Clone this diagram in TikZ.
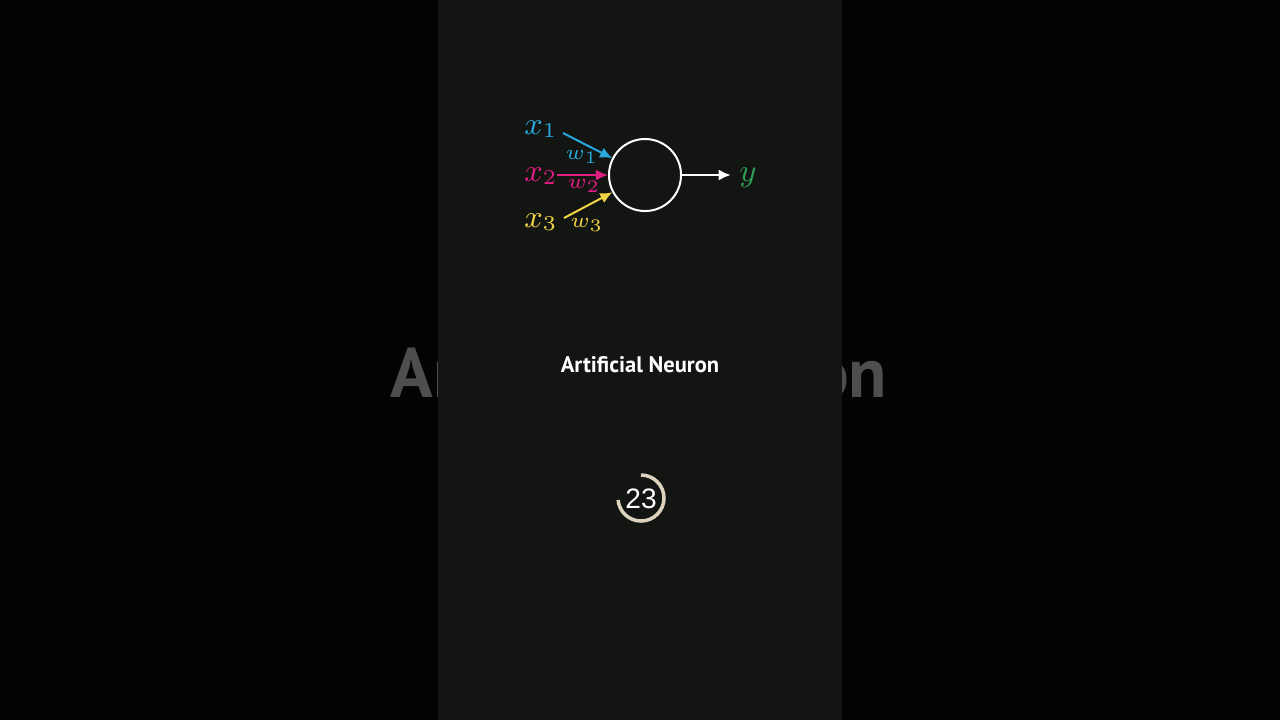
\documentclass[tikz,border=0pt]{standalone}
\usepackage{amsmath, amssymb}
\usepackage{fontspec}
\setmainfont{PT Sans}
\newfontfamily\countfont{Liberation Sans}
\usetikzlibrary{arrows.meta}

\definecolor{outside}{HTML}{030303}
\definecolor{panel}{HTML}{131513}
\definecolor{ghost}{HTML}{4E4E4E}
\definecolor{inblue}{HTML}{2AA8DE}
\definecolor{inpink}{HTML}{E11E82}
\definecolor{inyellow}{HTML}{F2D545}
\definecolor{outgreen}{HTML}{2E9E55}
\definecolor{ring}{HTML}{DDD2BE}

\tikzset{
  wire/.style={line width=0.02cm, -{Latex[length=0.12cm, width=0.11cm]}},
  varlabel/.style={inner sep=0pt, font=\fontsize{8.6}{9}\selectfont},
  wlabel/.style={inner sep=0pt, font=\fontsize{6.2}{7}\selectfont},
  ghosttext/.style={anchor=base, text=ghost, font=\fontsize{20}{21}\bfseries}
}

\begin{document}
\begin{tikzpicture}[x=0.01cm, y=-0.01cm]
  \tikzstyle{every node}+=[inner sep=0pt]
  % frame and panel
  \fill [outside] (0,0) rectangle (1280,720);
  \node (ghostleft) [ghosttext, anchor=base west] at (390,397) {Ar};
  \node (ghostright) [ghosttext, anchor=base east] at (888,397) {on};
  \fill [panel] (438,0) rectangle (842,720);
  \useasboundingbox (0,0) rectangle (1280,720);
  % neuron
  \node (neuron) [circle, draw=white, line width=0.02cm, minimum size=0.72cm] at (645,175) {};
  \node (x1) [varlabel, text=inblue] at (541,129) {$x_1$};
  \node (x2) [varlabel, text=inpink] at (541,176) {$x_2$};
  \node (x3) [varlabel, text=inyellow] at (541,222) {$x_3$};
  \node (y) [varlabel, text=outgreen] at (748,178) {$y$};
  \coordinate (s1) at (563,133);
  \coordinate (s2) at (557,175);
  \coordinate (s3) at (564,218);
  \draw [wire, inblue] (s1) -- (neuron);
  \draw [wire, inpink] (s2) -- (neuron);
  \draw [wire, inyellow] (s3) -- (neuron);
  \draw [wire, white, shorten >=0.08cm] (neuron) -- (neuron -| y.west);
  \node (w1) [wlabel, text=inblue] at (582,157) {$w_1$};
  \node (w2) [wlabel, text=inpink] at (584,186) {$w_2$};
  \node (w3) [wlabel, text=inyellow] at (587,225) {$w_3$};
  % title
  \node (title) [anchor=base, text=white, font=\fontsize{6.4}{7}\bfseries] at (640,372) {Artificial Neuron};
  % countdown
  \draw [ring, line width=0.035cm] (641,475) arc (-90:175:23);
  \node (count) [anchor=base, text=white, font=\countfont\fontsize{8}{9}\selectfont] at (641,508) {23};
\end{tikzpicture}
\end{document}
